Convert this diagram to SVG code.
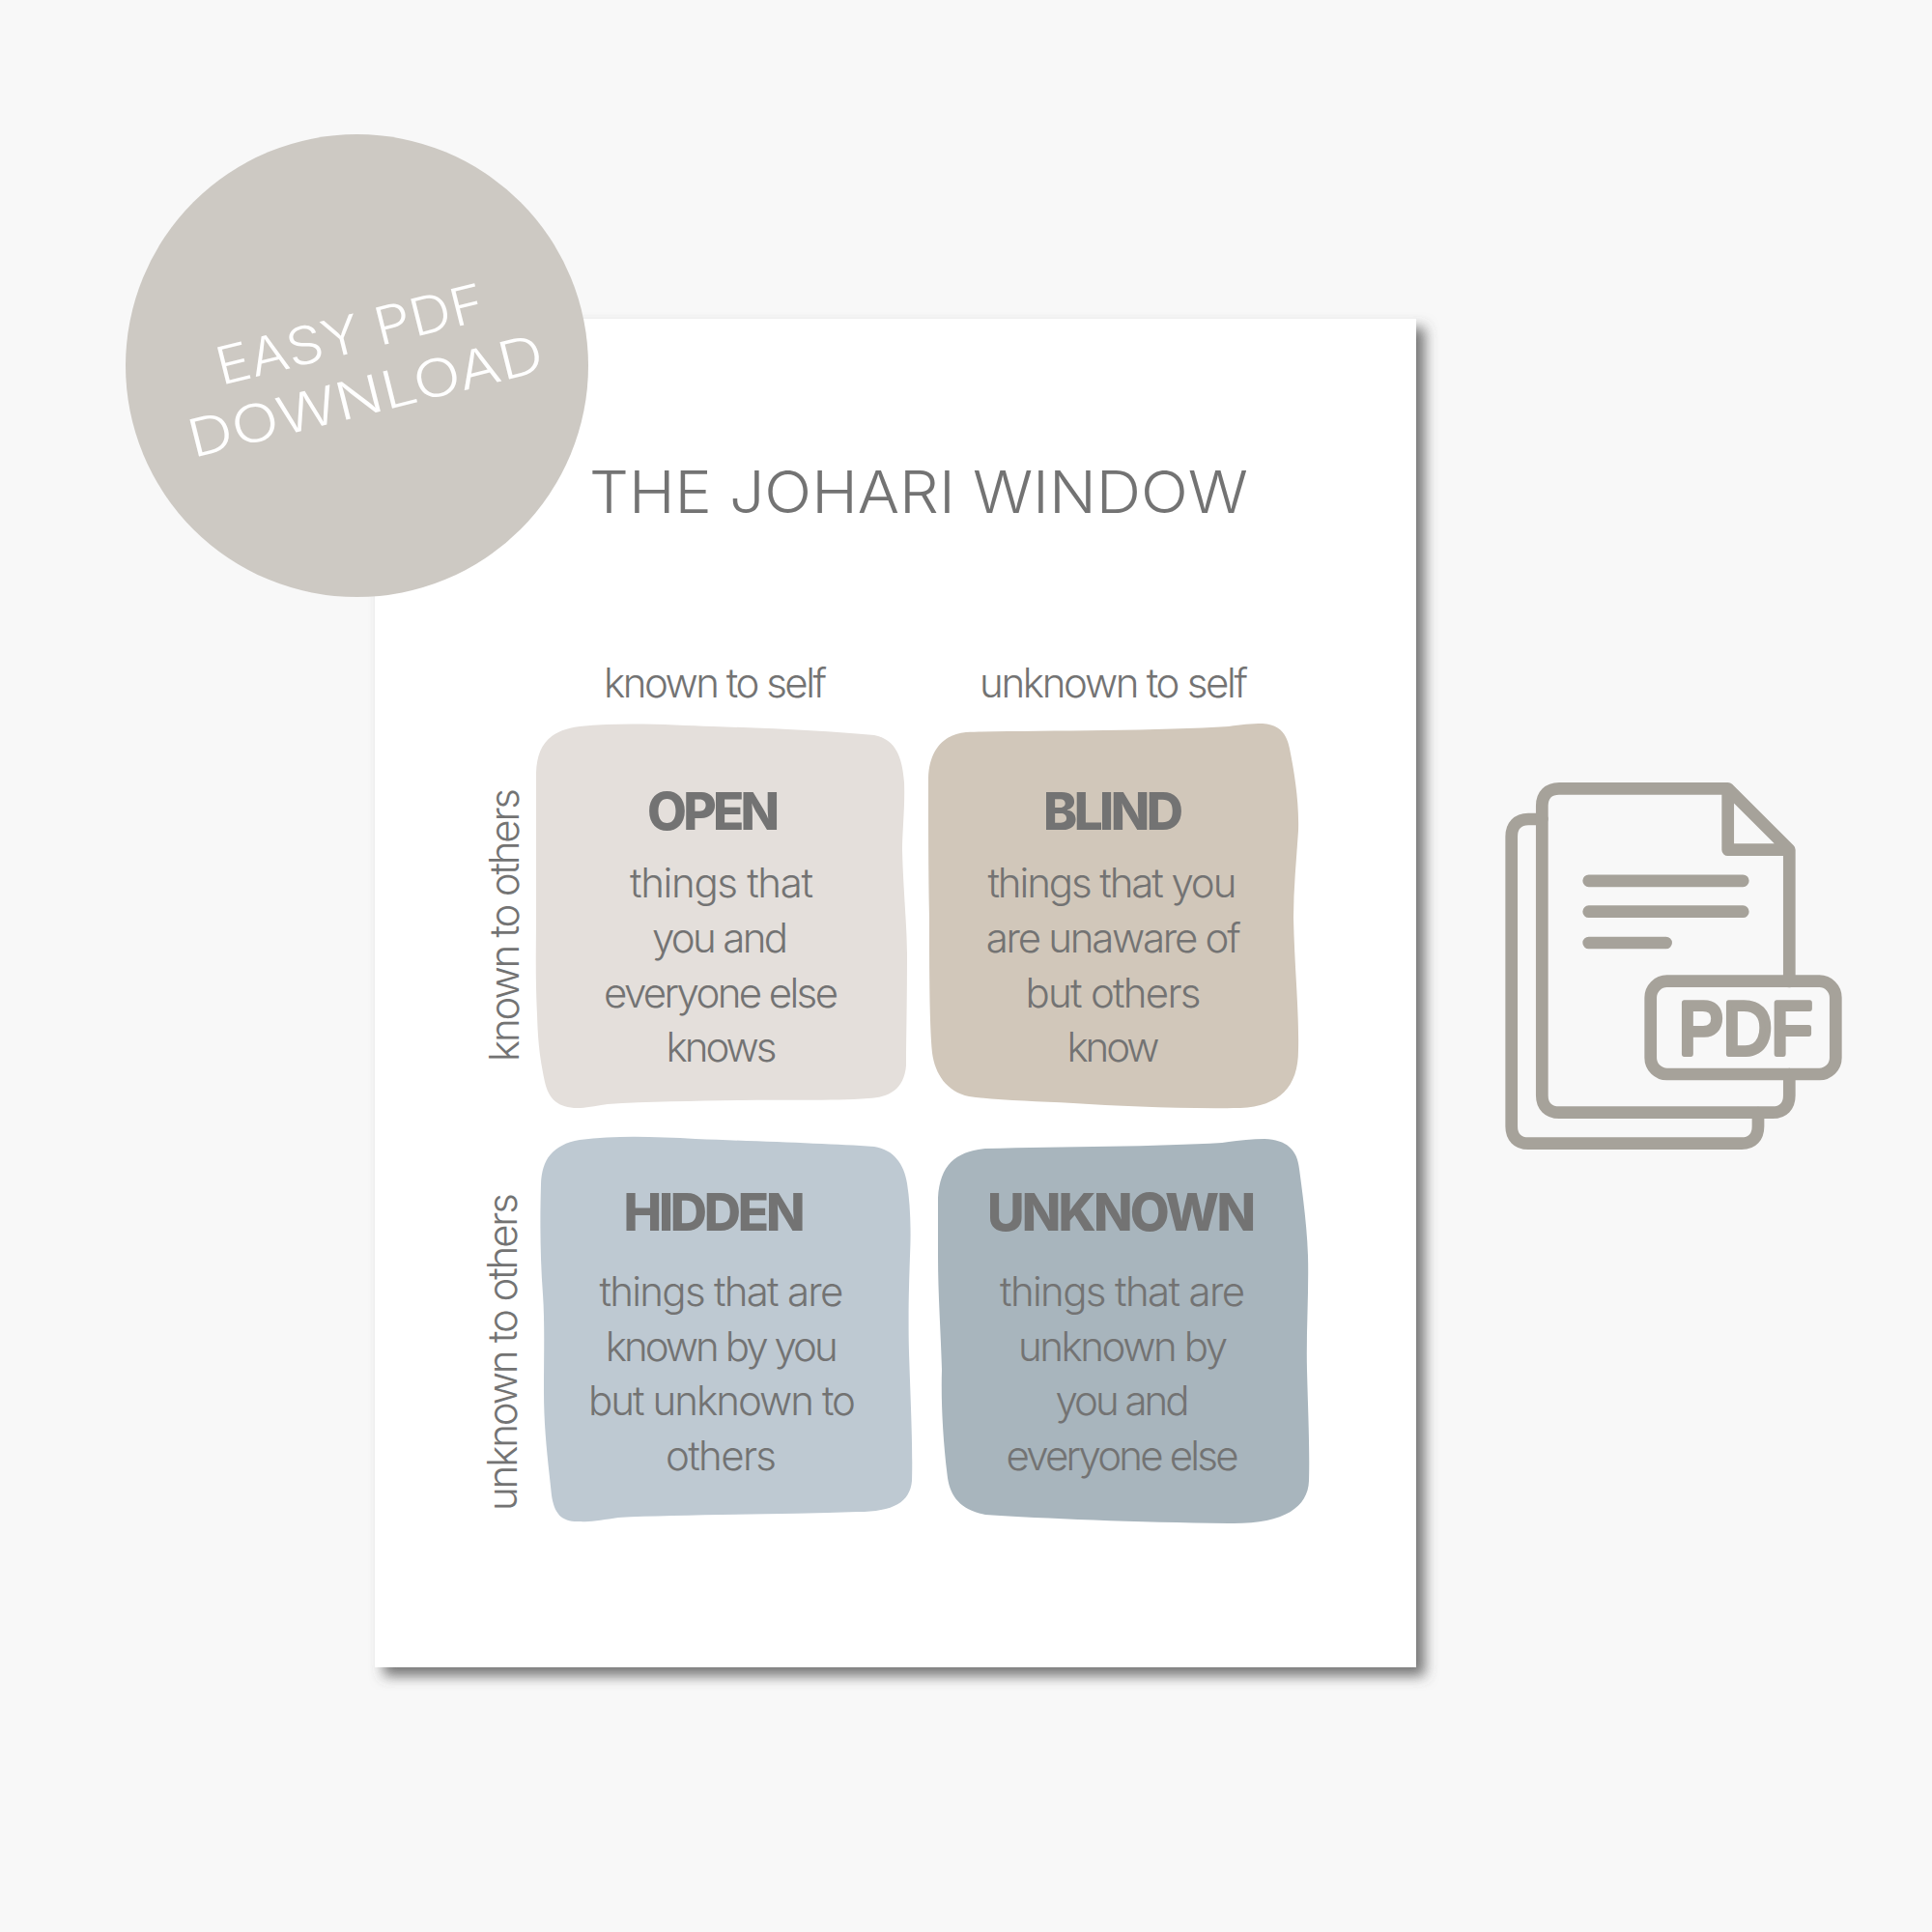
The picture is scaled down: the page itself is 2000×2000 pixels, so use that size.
<svg xmlns="http://www.w3.org/2000/svg" width="2000" height="2000" viewBox="0 0 2000 2000">
<style>
text{font-family:"Inter","Liberation Sans",sans-serif;fill:#737373}
.body{font-size:42px;font-weight:300}
.head{font-size:53px;font-weight:800}
.axis{font-size:42px;font-weight:300}
.badge{font-size:54px;font-weight:300;fill:#ffffff}
.ic{fill:none;stroke:#a6a29a;stroke-width:12.7;stroke-linecap:round;stroke-linejoin:round}
</style>
<defs>
<filter id="pageShadow" x="-5%" y="-5%" width="112%" height="112%">
<feDropShadow dx="9" dy="9" stdDeviation="7" flood-color="#4a4a4a" flood-opacity="0.75"/>
</filter>
</defs>
<rect width="2000" height="2000" fill="#f8f8f8"/>
<g id="page">
<rect x="388" y="330" width="1078" height="1396" fill="#ffffff" filter="url(#pageShadow)"/>
<text x="610" y="531" font-size="60" font-weight="300" textLength="682" lengthAdjust="spacingAndGlyphs">THE JOHARI WINDOW</text>
</g>
<g id="badge">
<circle cx="369.5" cy="378.6" r="239.5" fill="#cdc9c3"/>
<text class="badge" transform="translate(229 399) rotate(-14)" textLength="284" lengthAdjust="spacingAndGlyphs">EASY PDF</text>
<text class="badge" transform="translate(200 474) rotate(-14)" textLength="377" lengthAdjust="spacingAndGlyphs">DOWNLOAD</text>
</g>
<g id="axis-labels">
<text class="axis" x="625" y="722" textLength="231">known to self</text>
<text class="axis" x="1014" y="722" textLength="278">unknown to self</text>
<text class="axis" transform="translate(537 1099) rotate(-90)" textLength="283">known to others</text>
<text class="axis" transform="translate(535 1564) rotate(-90)" textLength="329">unknown to others</text>
</g>
<g id="open">
<path fill="#e4dfdb" d="M555 800C556 772 568 756 600 752C650 747 700 751 738 752C800 754 860 757 905 761C925 765 934 780 936 810C937 835 934 860 934 880C935 920 939 960 939 987C939 1040 938 1075 938 1103C936 1128 920 1136 899 1137C860 1140 810 1138 767 1139C720 1140 670 1140 629 1143C615 1145 606 1147 598 1147C578 1147 568 1138 564 1120C560 1100 557 1085 556 1050C554 1010 555 980 555 950Z"/>
<text class="head" x="670" y="859" textLength="137">OPEN</text>
<text class="body" x="652" y="929" textLength="190">things that</text>
<text class="body" x="675" y="986" textLength="141">you and</text>
<text class="body" x="625" y="1042.5" textLength="243">everyone else</text>
<text class="body" x="689.5" y="1099" textLength="115">knows</text>
</g>
<g id="blind">
<path fill="#d1c7ba" d="M961 805C962 775 978 760 1000 758C1060 756 1200 757 1272 752C1285 750 1295 749 1307 749C1325 750 1332 760 1335 775C1340 800 1345 830 1344 860C1342 890 1339 920 1339 950C1340 1000 1345 1050 1344 1087C1344 1125 1325 1145 1284 1147C1220 1148 1160 1145 1111 1142C1070 1140 1030 1139 1003 1135C980 1130 968 1112 965 1090C962 1060 962 1000 962 950C961 900 961 850 961 805Z"/>
<text class="head" x="1080" y="859" textLength="145">BLIND</text>
<text class="body" x="1022.4" y="929" textLength="258">things that you</text>
<text class="body" x="1020.7" y="986" textLength="264">are unaware of</text>
<text class="body" x="1061.5" y="1042.5" textLength="182">but others</text>
<text class="body" x="1104.5" y="1099" textLength="96">know</text>
</g>
<g id="hidden">
<path fill="#bec9d2" d="M560 1226C561 1200 572 1185 600 1180C640 1175 680 1177 720 1179C800 1182 860 1184 905 1187C925 1190 936 1205 939 1225C943 1250 943 1280 942 1300C941 1330 940 1360 941 1400C943 1460 945 1500 944 1533C942 1555 925 1565 888 1565C800 1568 700 1568 640 1571C625 1573 612 1576 601 1575C582 1576 574 1568 571 1548C567 1510 563 1480 563 1440C563 1400 564 1370 562 1340C559 1300 559 1260 560 1226Z"/>
<text class="head" x="645.5" y="1273.6" textLength="188">HIDDEN</text>
<text class="body" x="620.4" y="1352" textLength="253">things that are</text>
<text class="body" x="626.7" y="1408.5" textLength="241">known by you</text>
<text class="body" x="609" y="1465.4" textLength="277">but unknown to</text>
<text class="body" x="689" y="1522" textLength="115">others</text>
</g>
<g id="unknown">
<path fill="#a8b5bd" d="M971 1240C973 1205 990 1192 1020 1189C1100 1187 1200 1187 1265 1183C1280 1181 1295 1179 1309 1179C1332 1180 1343 1190 1345 1210C1349 1240 1353 1270 1354 1300C1355 1340 1352 1380 1353 1418C1354 1460 1356 1500 1355 1533C1354 1560 1330 1577 1277 1577C1180 1576 1080 1572 1020 1568C995 1563 984 1550 981 1530C976 1490 974 1450 975 1418C974 1380 971 1340 971 1300Z"/>
<text class="head" x="1022" y="1273.6" textLength="278">UNKNOWN</text>
<text class="body" x="1035" y="1352" textLength="254">things that are</text>
<text class="body" x="1054" y="1408.5" textLength="217">unknown by</text>
<text class="body" x="1092.5" y="1465.4" textLength="139">you and</text>
<text class="body" x="1041.5" y="1522" textLength="241">everyone else</text>
</g>
<g id="pdf-icon">
<path class="ic" d="M1596.3 848H1582C1571 848 1564.7 855 1564.7 866V1166C1564.7 1177 1571 1183.7 1582 1183.7H1803C1814 1183.7 1820 1177 1820 1166V1152"/>
<path class="ic" d="M1788.7 816.3H1614C1603 816.3 1596.3 823 1596.3 834V1134C1596.3 1145 1603 1151.7 1614 1151.7H1835C1846 1151.7 1852.3 1145 1852.3 1134V1112M1852.3 1016V879.7L1788.7 816.3V879.7H1852.3"/>
<path class="ic" d="M1644.7 911.8H1804.3M1644.7 943.7H1804.3M1644.7 976H1724.6"/>
<rect class="ic" x="1708.7" y="1015.7" width="191.6" height="96.3" rx="17"/>
<text x="1738" y="1091" font-size="76" textLength="138" lengthAdjust="spacingAndGlyphs" style="font-family:'Liberation Sans',sans-serif;fill:#a6a29a;stroke:#a6a29a;stroke-width:6;stroke-linejoin:round">PDF</text>
</g>
</svg>
